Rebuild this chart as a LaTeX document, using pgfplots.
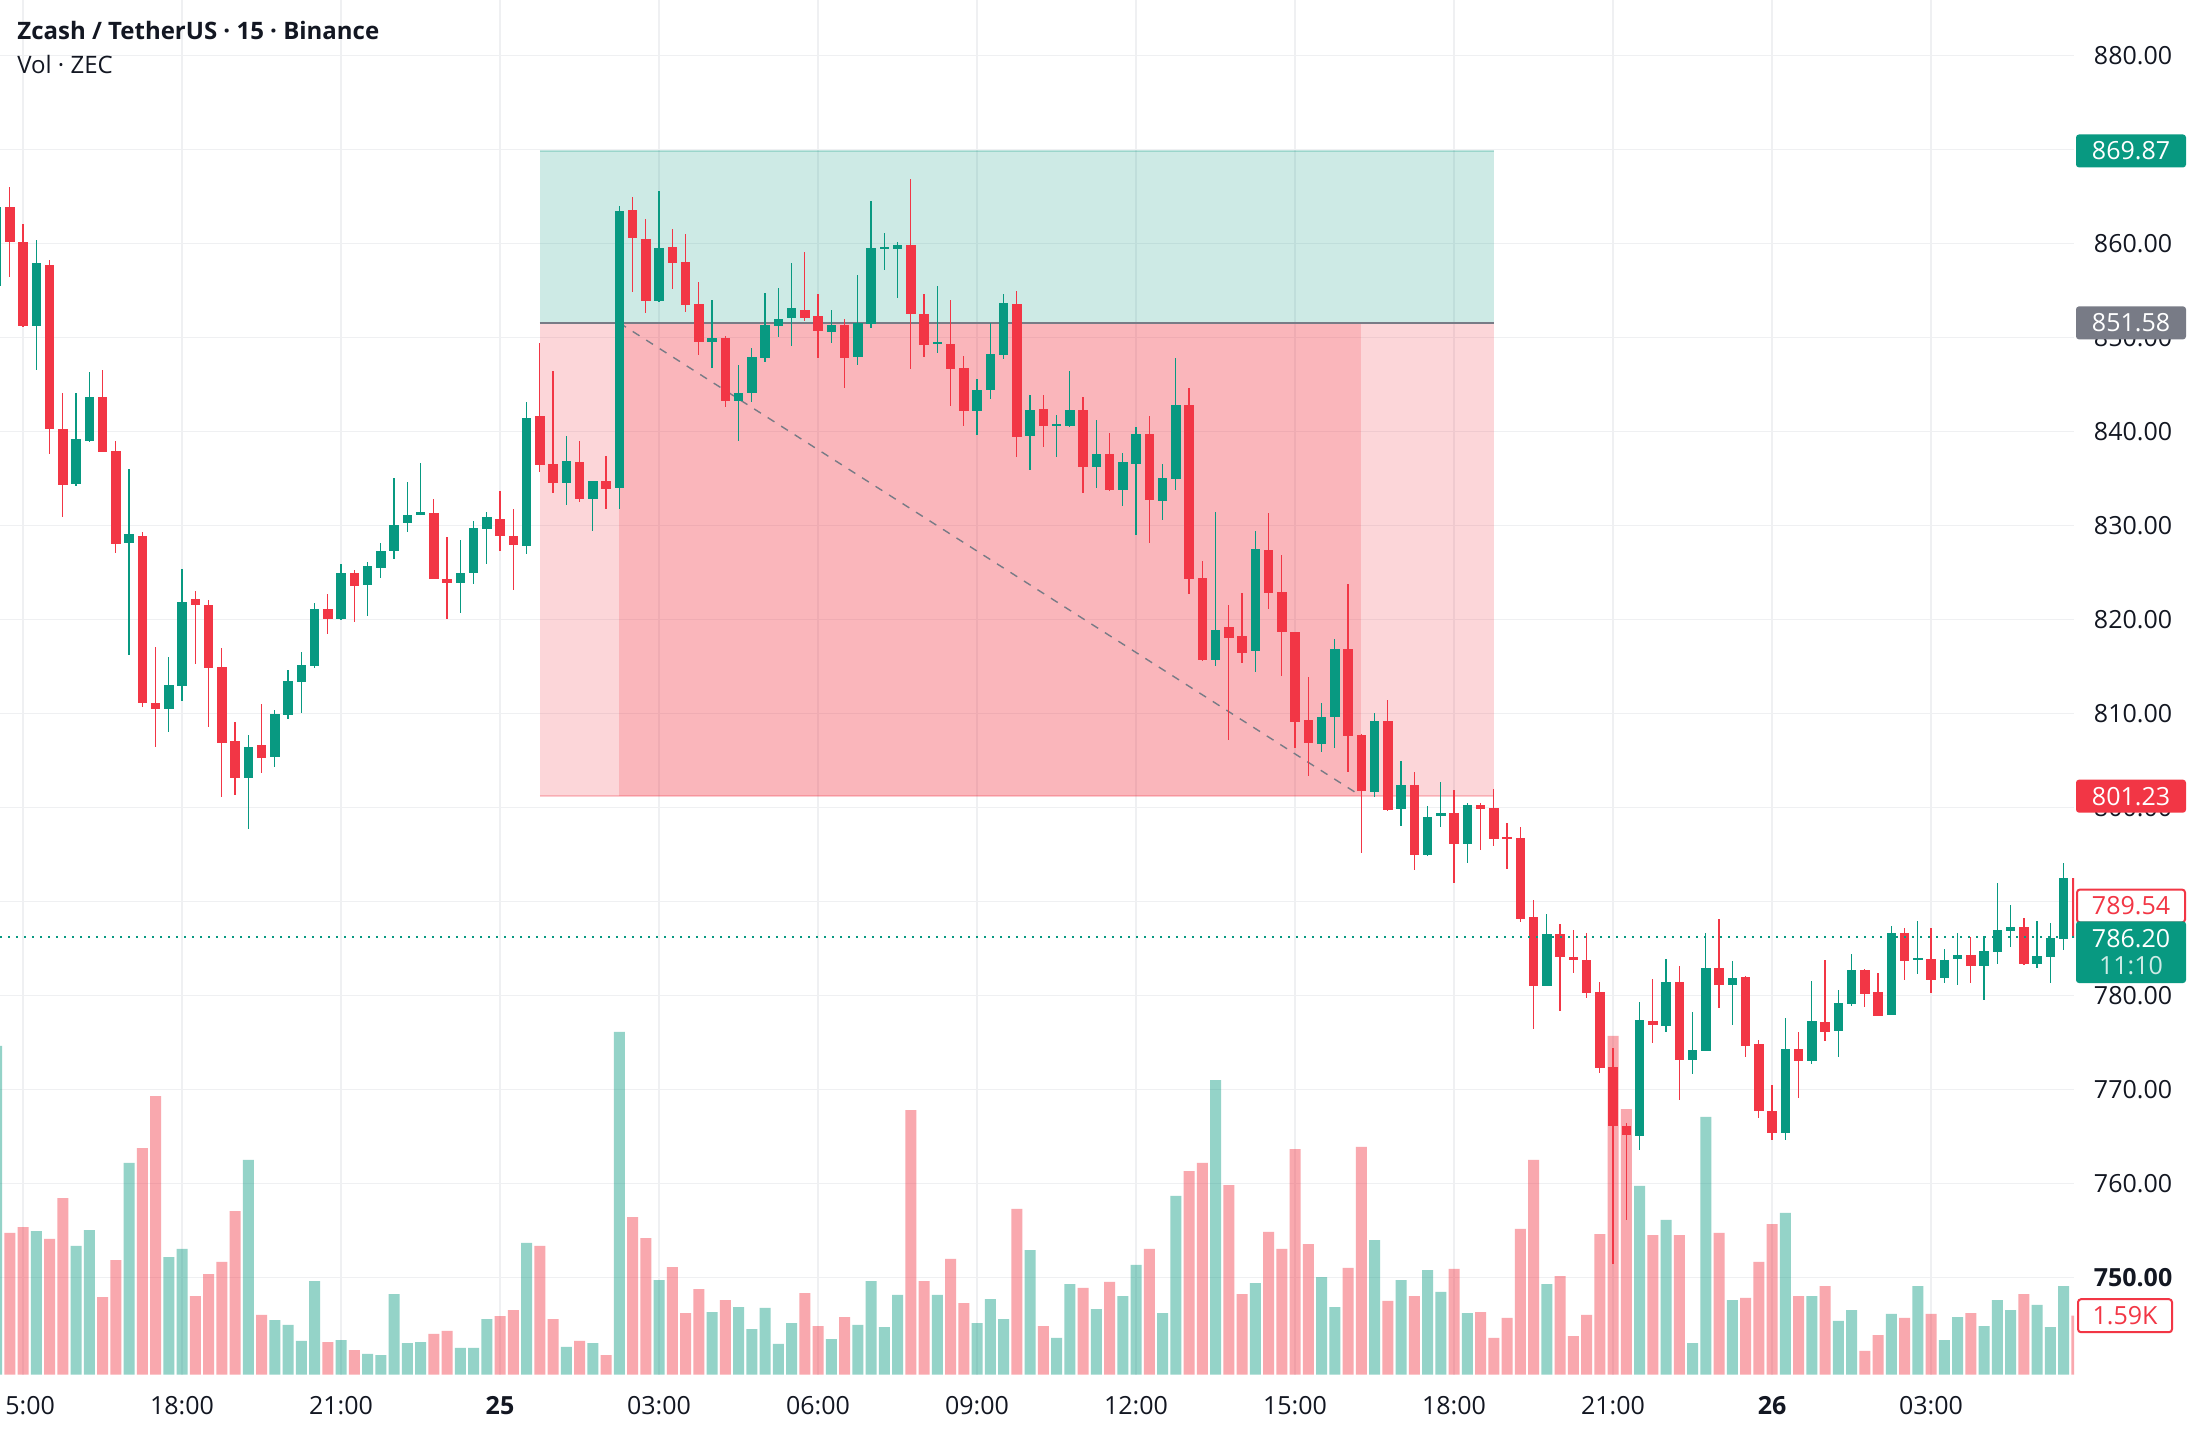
\documentclass[border=0pt]{standalone}
\usepackage{fontspec}
\setmainfont{Open Sans}
\usepackage{pgfplots}
\usepackage{pgfplotstable}
\pgfplotsset{compat=1.18}
\definecolor{upc}{HTML}{089981}
\definecolor{dnc}{HTML}{F23645}
\definecolor{gridc}{HTML}{EFF0F2}
\definecolor{txt}{HTML}{131722}
\definecolor{posgray}{HTML}{787B86}

% up candles: index (15-min bars, 0 = 24 Nov 15:00), open, high, low, close, volume (K ZEC)
\pgfplotstableread{
i o h l c v
-2 855.5 865.0 855.0 863.9 8.86
1 851.3 860.4 846.6 858.0 3.87
4 834.4 844.1 834.2 839.2 3.47
5 839.0 846.4 838.9 843.7 3.90
8 828.2 836.0 816.3 829.1 5.71
11 810.5 816.0 808.1 813.1 3.17
12 813.0 825.4 811.4 821.9 3.39
17 803.2 807.7 797.7 806.5 5.79
19 805.4 810.4 804.3 810.0 1.47
20 809.9 814.7 809.5 813.5 1.34
21 813.4 816.6 810.1 815.2 0.91
22 815.1 821.8 814.9 821.1 2.52
24 820.1 825.9 820.0 825.0 0.93
26 823.7 826.2 820.4 825.7 0.56
27 825.5 828.2 824.4 827.3 0.53
28 827.3 835.1 826.5 830.1 2.17
29 830.3 834.7 829.3 831.1 0.85
30 831.1 836.7 831.1 831.5 0.88
33 823.9 828.5 820.7 825.0 0.72
34 825.0 830.5 823.8 829.8 0.72
35 829.7 831.5 825.9 830.9 1.50
38 827.9 843.2 827.0 841.5 3.55
41 834.5 839.6 832.2 836.9 0.75
43 832.8 834.8 829.4 834.8 0.85
45 834.0 864.0 831.8 863.5 9.24
48 853.9 865.6 853.8 859.6 2.55
52 849.5 854.0 846.8 850.0 1.69
54 843.3 847.1 839.0 844.1 1.82
55 844.1 848.9 843.2 848.0 1.23
56 847.9 854.8 847.4 851.4 1.80
57 851.3 855.3 850.1 852.0 0.83
58 852.1 858.0 849.1 853.2 1.39
61 850.6 853.0 849.5 851.4 0.96
63 847.9 856.7 847.1 851.6 1.34
64 851.5 864.6 851.0 859.5 2.52
65 859.4 861.1 857.2 859.6 1.28
66 859.4 860.2 854.2 859.9 2.15
69 849.3 855.5 848.4 849.5 2.15
72 842.2 845.6 839.7 844.4 1.39
73 844.4 851.6 843.5 848.3 2.04
74 848.2 854.7 847.7 853.7 1.50
76 839.6 843.9 835.9 842.3 3.36
78 840.6 841.8 837.3 840.8 0.99
79 840.6 846.5 840.5 842.3 2.44
81 836.2 841.3 834.0 837.6 1.77
83 833.8 837.7 832.1 836.8 2.12
84 836.6 840.5 829.0 839.8 2.96
86 832.6 836.6 830.6 835.1 1.66
87 835.0 847.9 833.8 842.8 4.82
90 815.7 831.5 815.1 818.9 7.94
93 816.7 829.4 814.4 827.5 2.47
98 806.8 811.1 805.9 809.7 2.63
99 809.6 818.0 806.3 816.9 1.82
102 801.7 810.1 801.1 809.2 3.63
104 799.9 805.0 798.1 802.4 2.55
106 795.0 800.2 794.9 799.0 2.82
107 799.1 802.7 797.9 799.4 2.23
109 796.1 800.5 794.1 800.3 1.66
115 781.0 788.7 781.0 786.6 2.44
122 765.1 779.3 763.6 777.4 5.09
124 776.8 783.9 776.1 781.5 4.17
126 773.2 778.3 771.7 774.2 0.85
127 774.1 786.7 774.1 783.0 6.95
129 781.1 783.7 776.9 781.9 2.01
133 765.4 777.6 764.7 774.3 4.36
135 773.1 781.6 772.7 777.3 2.12
137 776.2 780.6 773.5 779.2 1.45
138 779.1 784.4 778.9 782.7 1.74
141 778.0 787.4 778.0 786.7 1.64
143 783.8 787.9 782.3 784.0 2.39
145 781.9 785.0 781.4 783.8 0.93
146 783.9 786.7 781.1 784.3 1.55
148 783.2 786.3 779.5 784.8 1.31
149 784.7 792.0 783.4 787.0 2.01
150 786.9 789.6 785.2 787.3 1.74
152 783.4 787.9 783.0 784.2 1.88
153 784.1 787.7 781.3 786.1 1.28
154 786.0 794.1 784.9 792.5 2.39
}\upT

% down candles
\pgfplotstableread{
i o h l c v
-1 863.9 866.0 856.5 860.2 3.82
0 860.2 862.1 851.2 851.3 3.98
2 857.7 858.3 837.6 840.3 3.66
3 840.3 844.1 830.9 834.3 4.76
6 843.7 846.6 837.8 837.8 2.09
7 838.0 839.0 827.1 828.1 3.09
9 828.9 829.3 810.7 811.2 6.11
10 811.2 817.1 806.5 810.5 7.51
13 822.2 823.1 815.3 821.6 2.12
14 821.6 822.1 808.6 814.9 2.71
15 815.0 817.0 801.1 806.9 3.04
16 807.1 809.1 801.4 803.2 4.41
18 806.7 811.0 803.7 805.3 1.61
23 821.1 822.7 818.5 820.1 0.88
25 825.0 825.3 819.8 823.6 0.66
31 831.4 832.8 824.3 824.3 1.10
32 824.3 828.8 820.1 823.9 1.18
36 830.7 833.7 827.3 828.9 1.58
37 828.9 831.8 823.2 827.9 1.74
39 841.7 849.4 835.7 836.5 3.47
40 836.6 846.5 833.5 834.6 1.50
42 836.8 839.0 832.5 832.8 0.91
44 834.8 837.4 831.8 833.9 0.53
46 863.6 865.0 854.9 860.6 4.25
47 860.5 862.6 852.6 853.9 3.68
49 859.6 861.6 855.2 858.0 2.90
50 858.1 861.0 852.7 853.5 1.66
51 853.6 855.9 848.2 849.5 2.31
53 850.0 850.2 842.6 843.3 2.01
59 853.0 859.1 851.8 852.1 2.20
60 852.3 854.6 847.8 850.7 1.31
62 851.4 852.0 844.7 847.8 1.55
67 859.9 866.9 846.7 852.5 7.13
68 852.5 854.7 848.0 849.2 2.52
70 849.3 854.0 842.8 846.7 3.12
71 846.8 848.1 840.6 842.2 1.93
75 853.6 855.0 837.3 839.5 4.47
77 842.4 843.9 838.4 840.6 1.31
80 842.3 843.7 833.5 836.3 2.34
82 837.6 839.9 833.7 833.8 2.50
85 839.8 841.7 828.2 832.7 3.39
88 842.9 844.7 822.7 824.3 5.49
89 824.4 826.3 815.6 815.7 5.71
91 819.2 821.6 807.2 818.1 5.11
92 818.3 822.8 815.4 816.5 2.17
94 827.4 831.4 821.1 822.8 3.85
95 823.0 826.9 814.0 818.7 3.39
96 818.7 818.7 806.4 809.1 6.08
97 809.3 813.9 803.4 806.9 3.52
100 816.9 823.8 803.8 807.6 2.88
101 807.7 807.9 795.2 801.8 6.14
103 809.2 811.5 799.7 799.8 1.99
105 802.4 803.8 793.4 795.0 2.12
108 799.4 801.9 792.0 796.1 2.85
110 800.3 800.5 795.5 799.9 1.69
111 800.0 802.0 795.9 796.7 0.99
112 796.9 798.4 793.5 796.7 1.53
113 796.8 798.0 787.9 788.2 3.93
114 788.4 790.2 776.5 781.0 5.79
116 786.6 787.6 778.4 784.1 2.66
117 784.1 787.0 782.4 783.8 1.04
118 783.8 786.7 779.8 780.3 1.61
119 780.4 781.5 771.8 772.3 3.79
120 772.4 774.4 751.5 766.2 9.13
121 766.2 766.5 756.2 765.2 7.16
123 777.3 781.8 775.0 776.9 3.76
125 781.5 783.2 768.9 773.2 3.76
128 783.0 788.2 778.7 781.1 3.82
130 782.0 782.1 773.5 774.7 2.07
131 774.9 775.3 767.0 767.7 3.04
132 767.7 770.5 764.7 765.4 4.06
134 774.3 776.1 769.1 773.1 2.12
136 777.2 783.8 775.2 776.1 2.39
139 782.7 782.8 778.8 780.2 0.64
140 780.4 782.4 777.9 777.9 1.07
142 786.7 787.2 781.7 783.7 1.53
144 783.9 787.2 780.3 781.7 1.64
147 784.3 786.3 781.4 783.2 1.66
151 787.3 788.3 783.3 783.4 2.17
155 792.5 792.6 786.0 786.2 1.59
}\dnT

\pgfplotsset{base/.style={at={(0pt,28.65pt)}, anchor=south west,
  width=1037pt, height=687.35pt, scale only axis, xmin=-1.736, xmax=154.79}}
\tikzset{plab/.style={minimum width=55pt, minimum height=16.5pt, inner sep=0pt,
  font=\fontsize{12.5}{13.35}\selectfont, rounded corners=1.5pt}}

\begin{document}
\begin{tikzpicture}[x=1pt,y=1pt]
\useasboundingbox (0,0) rectangle (1097,716);
\fill[white] (0,0) rectangle (1097,716);

% ---------- price axis: grid, tick labels, position tool ----------
\begin{axis}[base, ymin=739.68, ymax=885.93,
  axis line style={draw=none}, major tick length=0pt, tick style={draw=none},
  grid=major, grid style={draw=gridc, line width=0.7pt},
  xtick={0,12,...,144},
  xticklabels={15:00,18:00,21:00,\textbf{25},03:00,06:00,09:00,12:00,15:00,18:00,21:00,\textbf{26},03:00},
  xticklabel style={anchor=center, yshift=-15.4pt, inner sep=0pt, text=txt,
    font=\fontsize{12.5}{14}\selectfont},
  ytick={750,760,...,880},
  yticklabels={\textbf{750.00},760.00,770.00,780.00,790.00,800.00,810.00,820.00,830.00,840.00,850.00,860.00,870.00,880.00},
  yticklabel pos=right,
  yticklabel style={anchor=center, xshift=29.5pt, inner sep=0pt, text=txt,
    font=\fontsize{12.5}{14}\selectfont},
]
\addplot[draw=none, fill=upc, fill opacity=0.2] coordinates {(39,851.58) (111,851.58) (111,869.87) (39,869.87)} --cycle;
\addplot[draw=none, fill=dnc, fill opacity=0.2] coordinates {(39,801.23) (111,801.23) (111,851.58) (39,851.58)} --cycle;
\addplot[draw=none, fill=dnc, fill opacity=0.2] coordinates {(45,801.23) (101,801.23) (101,851.58) (45,851.58)} --cycle;
\addplot[upc, opacity=0.25, line width=0.7pt] coordinates {(39,869.87) (111,869.87)};
\addplot[dnc, opacity=0.25, line width=0.7pt] coordinates {(39,801.23) (111,801.23)};
\addplot[posgray, line width=0.7pt, dash pattern=on 4pt off 4pt] coordinates {(45,851.58) (101,801.23)};
\addplot[posgray, line width=0.9pt] coordinates {(39,851.58) (111,851.58)};
\coordinate (c869) at (axis cs:154.79,869.87);
\coordinate (c851) at (axis cs:154.79,851.58);
\coordinate (c801) at (axis cs:154.79,801.23);
\coordinate (c789) at (axis cs:154.79,789.54);
\coordinate (c786) at (axis cs:154.79,786.20);
\end{axis}

% ---------- volume ----------
\begin{axis}[base, ymin=0, ymax=37.05, axis lines=none]
\addplot[ybar, bar width=5.5pt, draw=none, fill=upc, fill opacity=0.43] table[x=i, y=v] \upT;
\addplot[ybar, bar width=5.5pt, draw=none, fill=dnc, fill opacity=0.43] table[x=i, y=v] \dnT;
\coordinate (cvol) at (axis cs:154.79,1.59);
\end{axis}

% ---------- candles ----------
\begin{axis}[base, ymin=739.68, ymax=885.93, axis lines=none]
\addplot[draw=none, error bars/.cd, y dir=both, y explicit, error mark=none,
  error bar style={draw=upc, line width=0.7pt}]
  table[x=i, y expr={(\thisrow{h}+\thisrow{l})/2}, y error expr={(\thisrow{h}-\thisrow{l})/2}] \upT;
\addplot[draw=none, error bars/.cd, y dir=both, y explicit, error mark=none,
  error bar style={draw=upc, line width=4.75pt}]
  table[x=i, y expr={(\thisrow{o}+\thisrow{c})/2}, y error expr={max(abs(\thisrow{c}-\thisrow{o})/2,0.06)}] \upT;
\addplot[draw=none, error bars/.cd, y dir=both, y explicit, error mark=none,
  error bar style={draw=dnc, line width=0.7pt}]
  table[x=i, y expr={(\thisrow{h}+\thisrow{l})/2}, y error expr={(\thisrow{h}-\thisrow{l})/2}] \dnT;
\addplot[draw=none, error bars/.cd, y dir=both, y explicit, error mark=none,
  error bar style={draw=dnc, line width=4.75pt}]
  table[x=i, y expr={(\thisrow{o}+\thisrow{c})/2}, y error expr={max(abs(\thisrow{c}-\thisrow{o})/2,0.06)}] \dnT;
\addplot[upc, line width=1pt, dash pattern=on 1pt off 3pt] coordinates {(-1.736,786.2) (154.79,786.2)};
\end{axis}

% ---------- price scale labels ----------
\node[plab, fill=upc, text=white] at ([xshift=28.5pt]c869) {869.87};
\node[plab, fill=posgray, text=white] at ([xshift=28.5pt]c851) {851.58};
\node[plab, fill=dnc, text=white] at ([xshift=28.5pt]c801) {801.23};
\node[plab, fill=white, draw=dnc, line width=1pt, minimum width=54pt, text=dnc] at ([xshift=28.5pt]c789) {789.54};
\node[plab, fill=upc, text=white, minimum height=30.85pt, align=center, anchor=north]
  at ([xshift=28.5pt, yshift=8.25pt]c786) {786.20\\\textcolor{white!80!upc}{11:10}};
\node[plab, fill=white, draw=dnc, line width=1pt, minimum width=47pt, text=dnc] at ([xshift=25.5pt]cvol) {1.59K};

% ---------- titles ----------
\node[anchor=base west, inner sep=0pt, text=txt, font=\bfseries\fontsize{12}{14}\selectfont]
  at (8.5,696) {Zcash / TetherUS · 15 · Binance};
\node[anchor=base west, inner sep=0pt, text=txt, font=\fontsize{12}{14}\selectfont]
  at (8.5,679) {Vol · ZEC};
\end{tikzpicture}
\end{document}
